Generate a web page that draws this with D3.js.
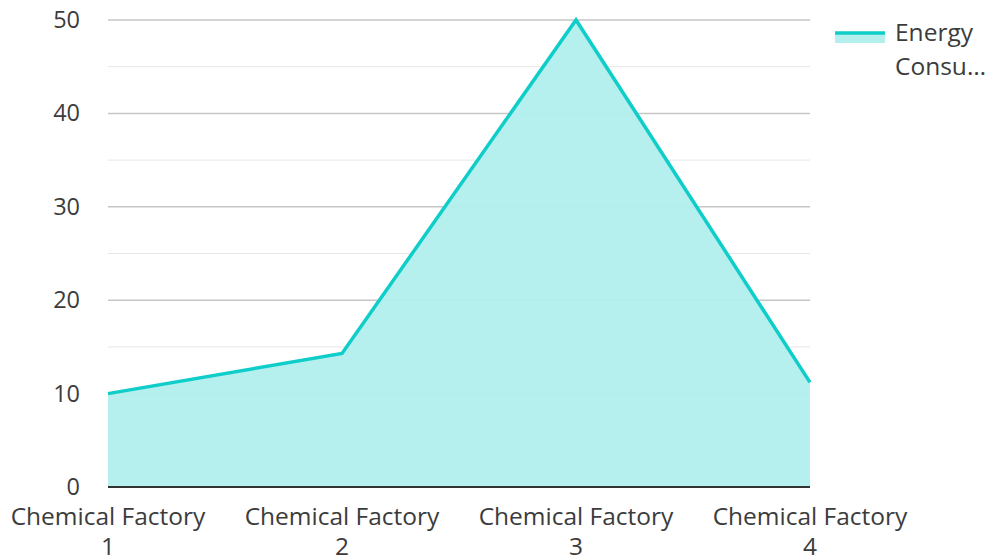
<!DOCTYPE html>
<html>
<head>
<meta charset="utf-8">
<script src="https://cdn.jsdelivr.net/npm/d3@7"></script>
<style>
  html, body { margin: 0; padding: 0; background: #fff; }
  svg { display: block; font-family: "Open Sans", "Noto Sans", sans-serif; }
</style>
</head>
<body>
<svg id="chart" width="988" height="559"></svg>
<script>
// Energy consumption per chemical factory
const categories = ["Chemical Factory 1", "Chemical Factory 2", "Chemical Factory 3", "Chemical Factory 4"];
const energyConsumption = [10, 14.3, 50, 11.2];
const seriesName = "Energy Consumption";
const yTicks = [0, 10, 20, 30, 40, 50];
const yMinorTicks = [5, 15, 25, 35, 45];

const lineColor = "#0fcdc9";
const fillColor = "#b2efed";
const textColor = "#3c3c3c";
const tickFontSize = 23.5;
const labelFontSize = 24.5;
const fontFamily = "'Open Sans', 'Noto Sans', sans-serif";

const svg = d3.select("#chart");
const margin = { left: 108, right: 178, top: 20, bottom: 72 };
const W = 988, H = 559;

const x = d3.scalePoint().domain(categories).range([margin.left, W - margin.right]);
const y = d3.scaleLinear().domain([0, 50]).range([H - margin.bottom, margin.top]);

// minor grid
svg.append("g").selectAll("line").data(yMinorTicks).join("line")
  .attr("x1", margin.left).attr("x2", W - margin.right)
  .attr("y1", d => y(d)).attr("y2", d => y(d))
  .attr("stroke", "#e6e6e6").attr("stroke-width", 1);

// major grid
svg.append("g").selectAll("line").data(yTicks.filter(d => d > 0)).join("line")
  .attr("x1", margin.left).attr("x2", W - margin.right)
  .attr("y1", d => y(d)).attr("y2", d => y(d))
  .attr("stroke", "#c6c6c6").attr("stroke-width", 1.5);

// area under the series
svg.append("path")
  .datum(energyConsumption)
  .attr("d", d3.area().x((d, i) => x(categories[i])).y0(y(0)).y1(d => y(d)))
  .attr("fill", fillColor).attr("fill-opacity", 0.95);

// series line
svg.append("path")
  .datum(energyConsumption)
  .attr("d", d3.line().x((d, i) => x(categories[i])).y(d => y(d)))
  .attr("fill", "none").attr("stroke", lineColor).attr("stroke-width", 3.5)
  .attr("stroke-linejoin", "miter");

// x axis baseline
svg.append("line")
  .attr("x1", margin.left).attr("x2", W - margin.right)
  .attr("y1", y(0)).attr("y2", y(0))
  .attr("stroke", "#333").attr("stroke-width", 2);

// y tick labels
const yAxis = d3.axisLeft(y).tickValues(yTicks).tickSize(0).tickPadding(28);
const yg = svg.append("g").attr("transform", `translate(${margin.left},0)`).call(yAxis);
yg.select(".domain").remove();
yg.selectAll("text").attr("font-size", tickFontSize).attr("fill", textColor)
  .attr("font-family", fontFamily);

// x labels, wrapped onto two lines
const xl = svg.append("g").selectAll("text").data(categories).join("text")
  .attr("x", d => x(d)).attr("y", y(0) + 38)
  .attr("text-anchor", "middle").attr("font-size", labelFontSize).attr("fill", textColor);
xl.each(function(d) {
  const parts = [d.slice(0, d.lastIndexOf(" ")), d.slice(d.lastIndexOf(" ") + 1)];
  d3.select(this).selectAll("tspan").data(parts).join("tspan")
    .attr("x", x(d)).attr("dy", (p, i) => i === 0 ? 0 : 30).text(p => p);
});

// legend
const lg = svg.append("g").attr("transform", "translate(835,33)");
lg.append("rect").attr("x", 0).attr("y", 0).attr("width", 50).attr("height", 10).attr("fill", fillColor);
lg.append("line").attr("x1", 0).attr("x2", 50).attr("y1", 0).attr("y2", 0)
  .attr("stroke", lineColor).attr("stroke-width", 3.5);
const lt = lg.append("text").attr("x", 60).attr("y", 8).attr("font-size", labelFontSize).attr("fill", textColor);
lt.append("tspan").attr("x", 60).attr("dy", 0).text(seriesName.split(" ")[0]);
lt.append("tspan").attr("x", 60).attr("dy", 34).text(seriesName.split(" ")[1].slice(0, 5) + "…");
</script>
</body>
</html>
